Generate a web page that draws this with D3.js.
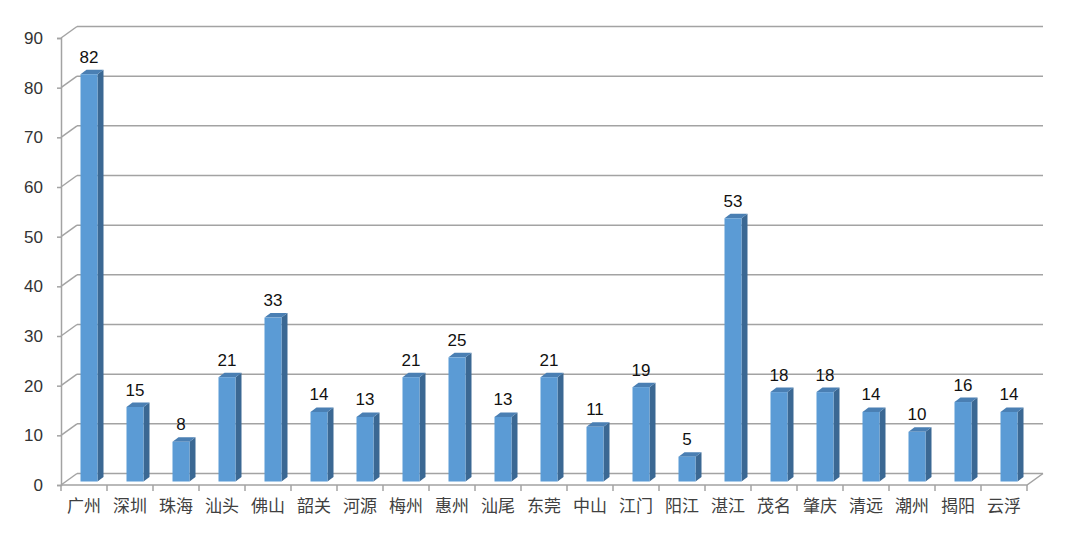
<!DOCTYPE html>
<html><head><meta charset="utf-8">
<script src="https://cdn.jsdelivr.net/npm/d3@7/dist/d3.min.js"></script>
<style>
html,body{margin:0;padding:0;background:#fff;}
svg{display:block;}
</style></head>
<body>
<svg id="chart" width="1080" height="536"></svg>
<script>
const categories = ["广州","深圳","珠海","汕头","佛山","韶关","河源","梅州","惠州","汕尾","东莞","中山","江门","阳江","湛江","茂名","肇庆","清远","潮州","揭阳","云浮"];
const values = [82,15,8,21,33,14,13,21,25,13,21,11,19,5,53,18,18,14,10,16,14];
const yTicks = [0,10,20,30,40,50,60,70,80,90];

const svg = d3.select("#chart");
const plotLeft = 61, plotRight = 1027, plotTop = 38, plotBottom = 485;
const depthX = 16, depthY = -11.5;      // back wall offset
const barPlaneX = 5, barPlaneY = -3.5;  // bar plane offset
const barW = 17, barDX = 6, barDY = -4.5;
const gridColor = "#a3a3a3";

const x = d3.scaleBand().domain(categories).range([plotLeft, plotRight]);
const y = d3.scaleLinear().domain([0, 90]).range([plotBottom, plotTop]);

// back wall gridlines + left wall diagonals
const g = svg.append("g");
yTicks.forEach(t => {
  const yy = y(t);
  g.append("line").attr("x1", plotLeft + depthX).attr("x2", plotRight + depthX)
    .attr("y1", yy + depthY).attr("y2", yy + depthY)
    .attr("stroke", gridColor).attr("stroke-width", 1.5);
  g.append("line").attr("x1", plotLeft).attr("x2", plotLeft + depthX)
    .attr("y1", yy).attr("y2", yy + depthY)
    .attr("stroke", gridColor).attr("stroke-width", 1.5);
});
// floor
g.append("path")
  .attr("d", `M${plotLeft},${plotBottom} L${plotRight},${plotBottom} L${plotRight+depthX},${plotBottom+depthY}`)
  .attr("fill", "none").attr("stroke", gridColor).attr("stroke-width", 1.5);

// y axis
const yAxis = d3.axisLeft(y).tickValues(yTicks).tickSize(4).tickPadding(14);
const ya = svg.append("g").attr("transform", `translate(${plotLeft},0)`).call(yAxis);
ya.select(".domain").attr("stroke", gridColor).attr("stroke-width", 1.5);
ya.selectAll(".tick line").attr("stroke", gridColor).attr("stroke-width", 1.5);
ya.selectAll(".tick text").attr("font-family", "'Liberation Sans', Arial, sans-serif")
  .attr("font-size", 17).attr("fill", "#333");

// x axis category ticks at band boundaries
const bounds = categories.map(c => x(c)).concat([plotRight]);
svg.append("g").selectAll("line").data(bounds).join("line")
  .attr("x1", d => d).attr("x2", d => d).attr("y1", plotBottom).attr("y2", plotBottom + 6)
  .attr("stroke", gridColor).attr("stroke-width", 1.5);

const xAxis = d3.axisBottom(x).tickSize(0).tickPadding(15);
const xa = svg.append("g").attr("transform", `translate(0,${plotBottom})`).call(xAxis);
xa.select(".domain").remove();
xa.selectAll(".tick text").attr("font-family", "'Noto Sans CJK SC', sans-serif")
  .attr("font-size", 17).attr("fill", "#404040");

// bars
const bars = svg.append("g");
categories.forEach((c, i) => {
  const v = values[i];
  const x0 = x(c) + (x.bandwidth() - barW) / 2 + barPlaneX;
  const y0 = plotBottom + barPlaneY;
  const yt = y(v) + barPlaneY;
  const bg = bars.append("g");
  bg.append("path")
    .attr("d", `M${x0+barW},${y0} L${x0+barW+barDX},${y0+barDY} L${x0+barW+barDX},${yt+barDY} L${x0+barW},${yt} Z`)
    .attr("fill", "#3b6893");
  bg.append("path")
    .attr("d", `M${x0},${yt} L${x0+barDX},${yt+barDY} L${x0+barW+barDX},${yt+barDY} L${x0+barW},${yt} Z`)
    .attr("fill", "#4a7fb3");
  bg.append("rect").attr("x", x0).attr("y", yt).attr("width", barW).attr("height", y0 - yt)
    .attr("fill", "#5b9bd5");
  bg.append("text").attr("x", x0 + barW / 2).attr("y", yt - 17)
    .attr("text-anchor", "middle").attr("dominant-baseline", "central")
    .attr("font-family", "'Liberation Sans', Arial, sans-serif").attr("font-size", 17)
    .attr("fill", "#111").text(v);
});
</script>
</body></html>
